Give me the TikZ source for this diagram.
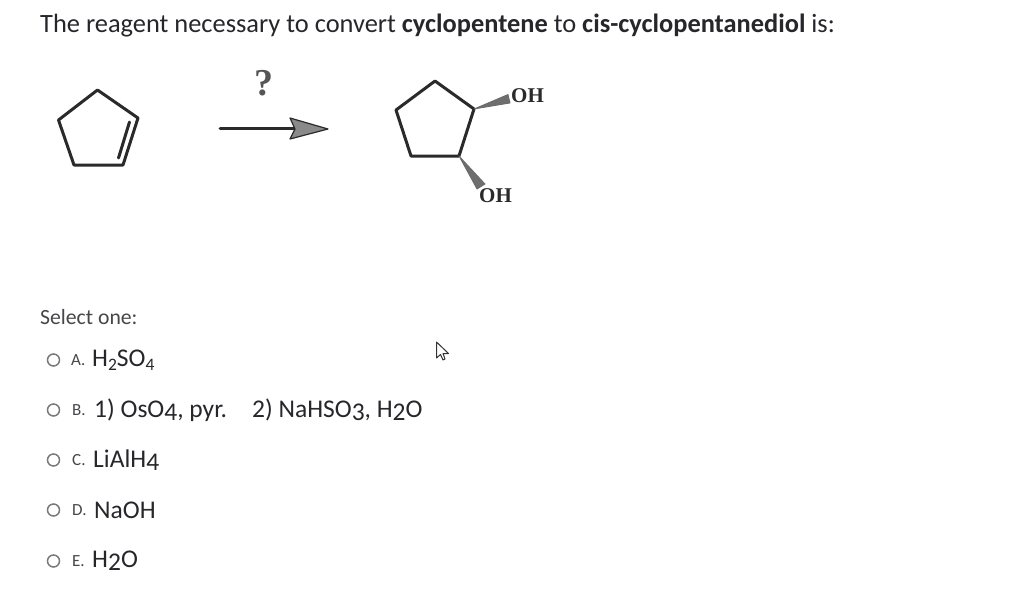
\documentclass[tikz,border=0pt]{standalone}
\usepackage{fontspec}
\setmainfont{Carlito}
\newfontfamily\chemfont{Liberation Serif}
\newcommand{\lowfig}[1]{\raisebox{-3pt}{#1}}
\newcommand{\subfig}[1]{\raisebox{-4pt}{\fontsize{17.5}{18}\selectfont #1}}
\definecolor{txt}{HTML}{26262B}
\definecolor{bond}{HTML}{2A2A2A}
\definecolor{wedgegray}{HTML}{8A8A8A}
\definecolor{radio}{HTML}{7A7A7A}
\tikzset{
  x=1pt,y=-1pt,
  bondline/.style={draw=bond,line width=3pt,line join=round,line cap=round},
  title/.style={inner sep=0,anchor=west,text=txt,font=\fontsize{26.4}{27}\selectfont},
  opt/.style={inner sep=0,anchor=west,text=txt,font=\fontsize{25.5}{26}\selectfont},
  optletter/.style={inner sep=0,anchor=west,text=txt!85,font=\fontsize{17}{17}\selectfont},
  radiobtn/.style={circle,draw=radio,line width=1.5pt,fill=white,minimum size=12pt,inner sep=0},
  oh/.style={inner sep=0,text=bond,font=\chemfont\bfseries\fontsize{21}{21}\selectfont},
}
\begin{document}
\begin{tikzpicture}
\path[use as bounding box,fill=white] (0,0) rectangle (1024,590);
\node[title] (head) at (40,25.5) {The reagent necessary to convert \textbf{cyclopentene} to \textbf{cis-cyclopentanediol} is:};

% cyclopentene
\coordinate (a1) at (97.5,90);
\coordinate (a2) at (138,118);
\coordinate (a3) at (123,165);
\coordinate (a4) at (74,165);
\coordinate (a5) at (58.5,120);
\coordinate (a6) at (129.5,122);
\coordinate (a7) at (118.5,158);
\draw[bondline] (a1)--(a2)--(a3)--(a4)--(a5)--cycle;
\draw[bondline] (a6)--(a7);

% arrow
\coordinate (r1) at (220,128.5);
\coordinate (r2) at (296,128.5);
\coordinate (h1) at (328,129);
\coordinate (h2) at (290,118);
\coordinate (h3) at (295,129);
\coordinate (h4) at (290,139);
\draw[bondline] (r1)--(r2);
\draw[draw=bond,line width=1.2pt,fill=wedgegray,line join=round] (h1)--(h2)--(h3)--(h4)--cycle;
\node[oh,font=\chemfont\bfseries\fontsize{38}{38}\selectfont,text=bond!80] (q) at (264,83) {?};

% cyclopentanediol
\coordinate (b1) at (435,81);
\coordinate (b2) at (474,109);
\coordinate (b3) at (459,156);
\coordinate (b4) at (411,156);
\coordinate (b5) at (396,110);
\draw[bondline] (b1)--(b2)--(b3)--(b4)--(b5)--cycle;
\coordinate (w1) at (508,94.5);
\coordinate (w2) at (510,103);
\coordinate (w3) at (485,184);
\coordinate (w4) at (477,189);
\draw[draw=bond!70,line width=.8pt,fill=wedgegray!80!black,line join=round] (b2)--(w1)--(w2)--cycle;
\draw[draw=bond!70,line width=.8pt,fill=wedgegray!80!black,line join=round] (b3)--(w3)--(w4)--cycle;
\node[oh] (oh1) at (527.5,95.5) {OH};
\node[oh] (oh2) at (495.5,195.5) {OH};

% options
\node[inner sep=0,anchor=west,text=txt!85,font=\fontsize{21.7}{22}\selectfont] (sel) at (40,317.5) {Select one:};

\node[radiobtn] (ra) at (53.5,360) {};
\node[optletter] (la) at (71,360) {A.};
\node[opt] (ta) at (92,360) {H\subfig{2}SO\subfig{4}};

\node[radiobtn] (rb) at (53.5,410) {};
\node[optletter] (lb) at (72,410) {B.};
\node[opt] (tb) at (94,410) {1) OsO\lowfig{4}, pyr.};
\node[opt] (tb2) at (252,410) {2) NaHSO\lowfig{3}, H\lowfig{2}O};

\node[radiobtn] (rc) at (53.5,460) {};
\node[optletter] (lc) at (72,460) {C.};
\node[opt] (tc) at (93,460) {LiAlH\lowfig{4}};

\node[radiobtn] (rd) at (53.5,510) {};
\node[optletter] (ld) at (72,510) {D.};
\node[opt] (td) at (94,510) {NaOH};

\node[radiobtn] (re) at (53.5,561) {};
\node[optletter] (le) at (72,561) {E.};
\node[opt] (te) at (92,561) {H\lowfig{2}O};

% cursor
\draw[draw=black!80,line width=1pt,fill=white,line join=round]
  (436.5,342)--(436.5,358)--(440.5,354.5)--(443,360)--(445,359)--(443,353.5)--(448.5,353.5)--cycle;
\end{tikzpicture}
\end{document}
